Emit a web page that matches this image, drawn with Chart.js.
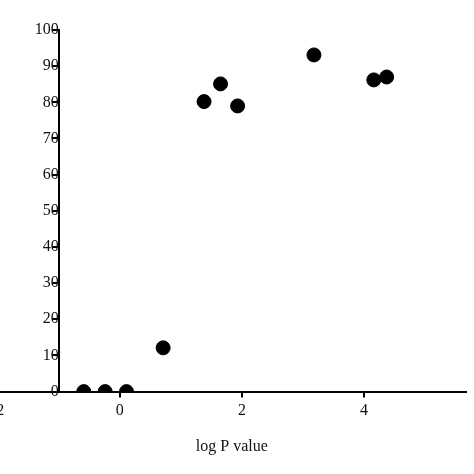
<!DOCTYPE html>
<html><head><meta charset="utf-8">
<script src="https://cdn.jsdelivr.net/npm/chart.js@4"></script>
<style>
html,body{margin:0;padding:0;background:#fff;overflow:hidden;}
#wrap{position:absolute;left:-13px;top:0;width:487px;height:474px;}
</style></head><body>
<div id="wrap"><canvas id="c"></canvas></div>
<script>
// log P value vs response (%)
const logP   = [-0.59, -0.24, 0.11, 0.71, 1.38, 1.65, 1.93, 3.18, 4.16, 4.37];
const values = [0, 0, 0, 12.1, 80.2, 85.1, 79, 93.1, 86.2, 87];
const xTicks = [-2, 0, 2, 4];

const font = { family: "'Liberation Serif', 'DejaVu Serif', serif", size: 16 };

new Chart(document.getElementById('c'), {
  type: 'scatter',
  data: {
    datasets: [{
      data: logP.map((x, i) => ({ x, y: values[i] })),
      backgroundColor: '#000',
      borderColor: '#000',
      pointRadius: 7,
      pointHoverRadius: 7
    }]
  },
  options: {
    responsive: true,
    maintainAspectRatio: false,
    animation: false,
    layout: { padding: { left: 10, right: 0, top: 30, bottom: 14 } },
    plugins: { legend: { display: false }, tooltip: { enabled: false } },
    scales: {
      x: {
        type: 'linear', min: -2, max: 5.67,
        afterBuildTicks: s => { s.ticks = xTicks.map(v => ({ value: v })); },
        grid: { display: true, drawOnChartArea: false, drawTicks: true, tickLength: 6, color: '#000', lineWidth: 2 },
        border: { color: '#000', width: 2 },
        ticks: { color: '#111', font, padding: 4, callback: v => v },
        title: { display: true, text: 'log P value', color: '#111', font, padding: { top: 12 } }
      },
      y: {
        position: { x: -1 },
        min: 0, max: 100,
        ticks: { stepSize: 10, color: '#111', font, padding: 14 },
        grid: { display: true, drawOnChartArea: false, drawTicks: true, tickLength: 6, color: '#000', lineWidth: 2 },
        border: { color: '#000', width: 2 }
      }
    }
  }
});
</script>
</body></html>
